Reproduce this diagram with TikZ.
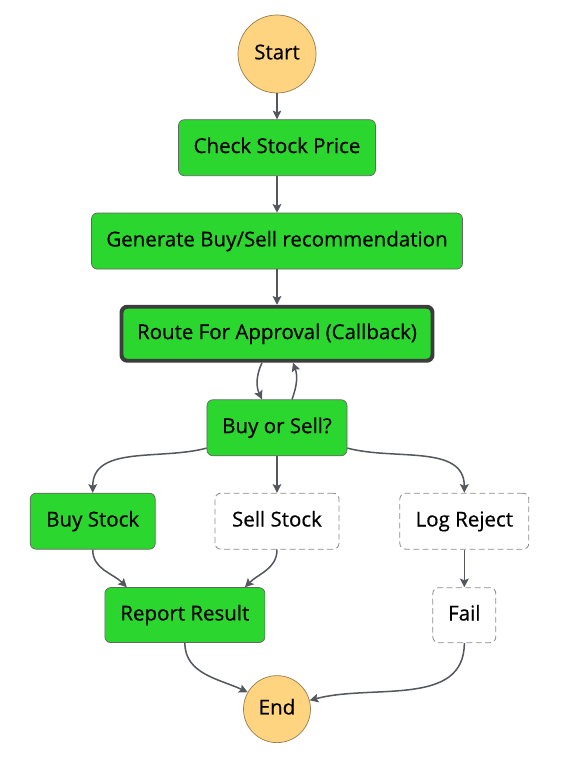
\documentclass[tikz,border=0pt]{standalone}
\usepackage{fontspec}
\setmainfont{Open Sans}[FakeBold=0.5]
\usetikzlibrary{
    positioning,
    arrows.meta,
    calc
}
\definecolor{StateGreen}{RGB}{43,214,46}
\definecolor{StateEdge}{RGB}{100,100,100}
\definecolor{TermYellow}{RGB}{255,212,128}
\definecolor{TermEdge}{RGB}{150,125,80}
\definecolor{RouteEdge}{RGB}{60,60,60}
\definecolor{DashGray}{RGB}{140,140,140}
\definecolor{EdgeGray}{RGB}{84,88,94}

\begin{document}
\begin{tikzpicture}[
    font=\fontsize{17.5}{20}\selectfont,
    terminal/.style={circle, draw=TermEdge, fill=TermYellow, line width=0.6pt, inner sep=0pt, text height=1.85ex, text depth=0.15ex},
    task/.style={rectangle, draw=StateEdge, fill=StateGreen, rounded corners=5pt, line width=0.6pt, minimum height=1.68cm, inner sep=0pt, text height=1.85ex, text depth=0.15ex},
    skipped/.style={rectangle, draw=DashGray, dashed, dash pattern=on 5pt off 3pt, fill=white, rounded corners=5pt, line width=0.7pt, minimum height=1.68cm, inner sep=0pt, text height=1.85ex, text depth=0.15ex},
    flow/.style={draw=EdgeGray, line width=1.3pt, -{Stealth[length=2.6mm, width=2.6mm, inset=0.5mm]}},
]
\useasboundingbox (-8.31,1.62) rectangle (9.12,-21.24);

\node[terminal, minimum size=2.34cm] (start) at (0,0) {Start};
\node[task, minimum width=5.91cm, below=0.78cm of start] (check) {Check Stock Price};
\node[task, minimum width=11.13cm, below=1.1cm of check] (gen) {Generate Buy/Sell recommendation};
\node[task, draw=RouteEdge, line width=3.4pt, minimum width=9.33cm, minimum height=1.62cm, below=1.06cm of gen] (route) {Route For Approval (Callback)};
\node[task, minimum width=4.2cm, below=1.1cm of route] (choice) {Buy or Sell?};
\node[skipped, minimum width=3.72cm, below=1.1cm of choice] (sell) {Sell Stock};
\node[task, minimum width=3.75cm, left=1.77cm of sell] (buy) {Buy Stock};
\node[skipped, minimum width=3.87cm, right=1.8cm of sell] (log) {Log Reject};
\coordinate (mid) at ($(buy.south)!0.5!(sell.south)$);
\node[task, minimum width=4.8cm, minimum height=1.65cm, below=1.13cm of mid] (report) {Report Result};
\node[skipped, minimum width=1.89cm, minimum height=1.65cm, below=1.13cm of log] (fail) {Fail};
\coordinate (endref) at (report.south -| choice.south);
\node[terminal, minimum size=2.01cm, below=0.97cm of endref] (end) {End};

% main line
\draw[flow] (start) -- (check);
\draw[flow] (check) -- (gen);
\draw[flow] (gen) -- (route);

% callback loop
\draw[flow] ([xshift=-0.45cm]route.south) to[out=-115, in=115] ([xshift=-0.45cm]choice.north);
\draw[flow] ([xshift=0.45cm]choice.north) to[out=70, in=-70] ([xshift=0.48cm]route.south);

% branches
\draw[flow] ([yshift=0.24cm]choice.south west) to[out=195, in=90] (buy.north);
\draw[flow] (choice) -- (sell);
\draw[flow] ([yshift=0.24cm]choice.south east) to[out=-15, in=90] (log.north);
\draw[flow] (buy.south) to[out=-90, in=135] ([xshift=-1.74cm]report.north);
\draw[flow] (sell.south) to[out=-90, in=45] ([xshift=1.8cm]report.north);
\draw[flow] (log) -- (fail);
\draw[flow] (report.south) to[out=-90, in=155] (end.150);
\draw[flow] (fail.south) to[out=-90, in=15] (end.15);
\end{tikzpicture}
\end{document}
